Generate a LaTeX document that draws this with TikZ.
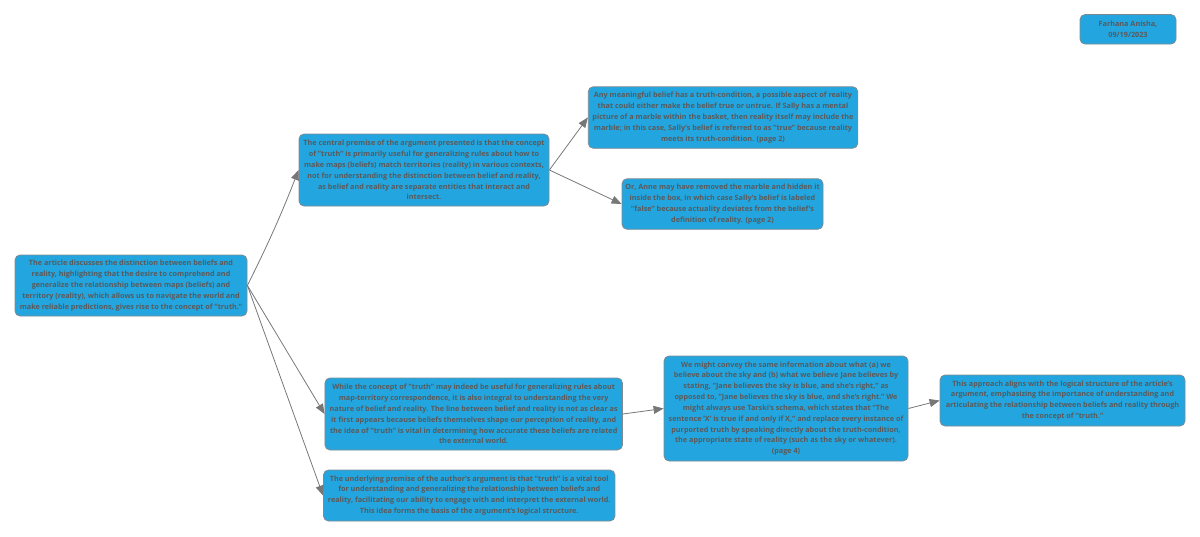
\documentclass[tikz,border=0pt]{standalone}
\usepackage{fontspec}
\setmainfont{Open Sans}[BoldFont={Open Sans Bold}]
\usetikzlibrary{arrows.meta}
\tikzset{
  card/.style={draw=cardedge,fill=cardfill,line width=0.8pt,rounded corners=5pt,inner sep=0pt,align=center,
    text=cardtext,font=\fontsize{7.25}{10.85}\selectfont\bfseries},
  link/.style={draw=linkgrey,line width=0.8pt,-{Triangle[length=10pt,width=8pt,fill=linkgrey]}}
}
\definecolor{cardedge}{HTML}{7E8A90}
\definecolor{cardfill}{HTML}{23A6DF}
\definecolor{cardtext}{HTML}{5A5A5C}
\definecolor{linkgrey}{HTML}{777777}
\begin{document}
\begin{tikzpicture}[x=1pt,y=-1pt]
\useasboundingbox (0,0) rectangle (1200,536);
\node[card,minimum width=232pt,minimum height=61pt] (root) at (131,285.5) {The article discusses the distinction between beliefs and\\reality, highlighting that the desire to comprehend and\\generalize the relationship between maps (beliefs) and\\territory (reality), which allows us to navigate the world and\\make reliable predictions, gives rise to the concept of "truth."};
\node[card,minimum width=250pt,minimum height=72pt] (prem) at (424,170) {The central premise of the argument presented is that the concept\\of "truth" is primarily useful for generalizing rules about how to\\make maps (beliefs) match territories (reality) in various contexts,\\not for understanding the distinction between belief and reality,\\as belief and reality are separate entities that interact and\\intersect.};
\node[card,minimum width=269.5pt,minimum height=61.5pt] (cond) at (723,117.5) {Any meaningful belief has a truth-condition, a possible aspect of reality\\that could either make the belief true or untrue. If Sally has a mental\\picture of a marble within the basket, then reality itself may include the\\marble; in this case, Sally's belief is referred to as "true" because reality\\meets its truth-condition. (page 2)};
\node[card,minimum width=201pt,minimum height=50.5pt] (anne) at (722.5,204) {Or, Anne may have removed the marble and hidden it\\inside the box, in which case Sally's belief is labeled\\"false" because actuality deviates from the belief's\\definition of reality. (page 2)};
\node[card,minimum width=297.5pt,minimum height=72pt] (while) at (473.7,414) {While the concept of "truth" may indeed be useful for generalizing rules about\\map-territory correspondence, it is also integral to understanding the very\\nature of belief and reality. The line between belief and reality is not as clear as\\it first appears because beliefs themselves shape our perception of reality, and\\the idea of "truth" is vital in determining how accurate these beliefs are related\\the external world.};
\node[card,minimum width=291.5pt,minimum height=51pt] (under) at (469.2,495.5) {The underlying premise of the author's argument is that "truth" is a vital tool\\for understanding and generalizing the relationship between beliefs and\\reality, facilitating our ability to engage with and interpret the external world.\\This idea forms the basis of the argument's logical structure.};
\node[card,minimum width=244pt,minimum height=105pt] (sky) at (786,408.5) {We might convey the same information about what (a) we\\believe about the sky and (b) what we believe Jane believes by\\stating, "Jane believes the sky is blue, and she's right," as\\opposed to, "Jane believes the sky is blue, and she's right." We\\might always use Tarski's schema, which states that "The\\sentence 'X' is true if and only if X," and replace every instance of\\purported truth by speaking directly about the truth-condition,\\the appropriate state of reality (such as the sky or whatever).\\(page 4)};
\node[card,minimum width=245pt,minimum height=51pt] (logic) at (1062.5,400.5) {This approach aligns with the logical structure of the article's\\argument, emphasizing the importance of understanding and\\articulating the relationship between beliefs and reality through\\the concept of "truth."};
\node[card,minimum width=96pt,minimum height=29.5pt] (author) at (1128,29.3) {Farhana Anisha,\\09/19/2023};
\draw[link] (root.east) to[bend right=2.5] (prem.west);
\draw[link] (root.east) -- (while.west);
\draw[link] (root.east) -- (under.west);
\draw[link] (prem.east) -- (cond.west);
\draw[link] (prem.east) -- (anne.west);
\draw[link] (while.east) -- (sky.west);
\draw[link] (sky.east) -- (logic.west);
\end{tikzpicture}
\end{document}
